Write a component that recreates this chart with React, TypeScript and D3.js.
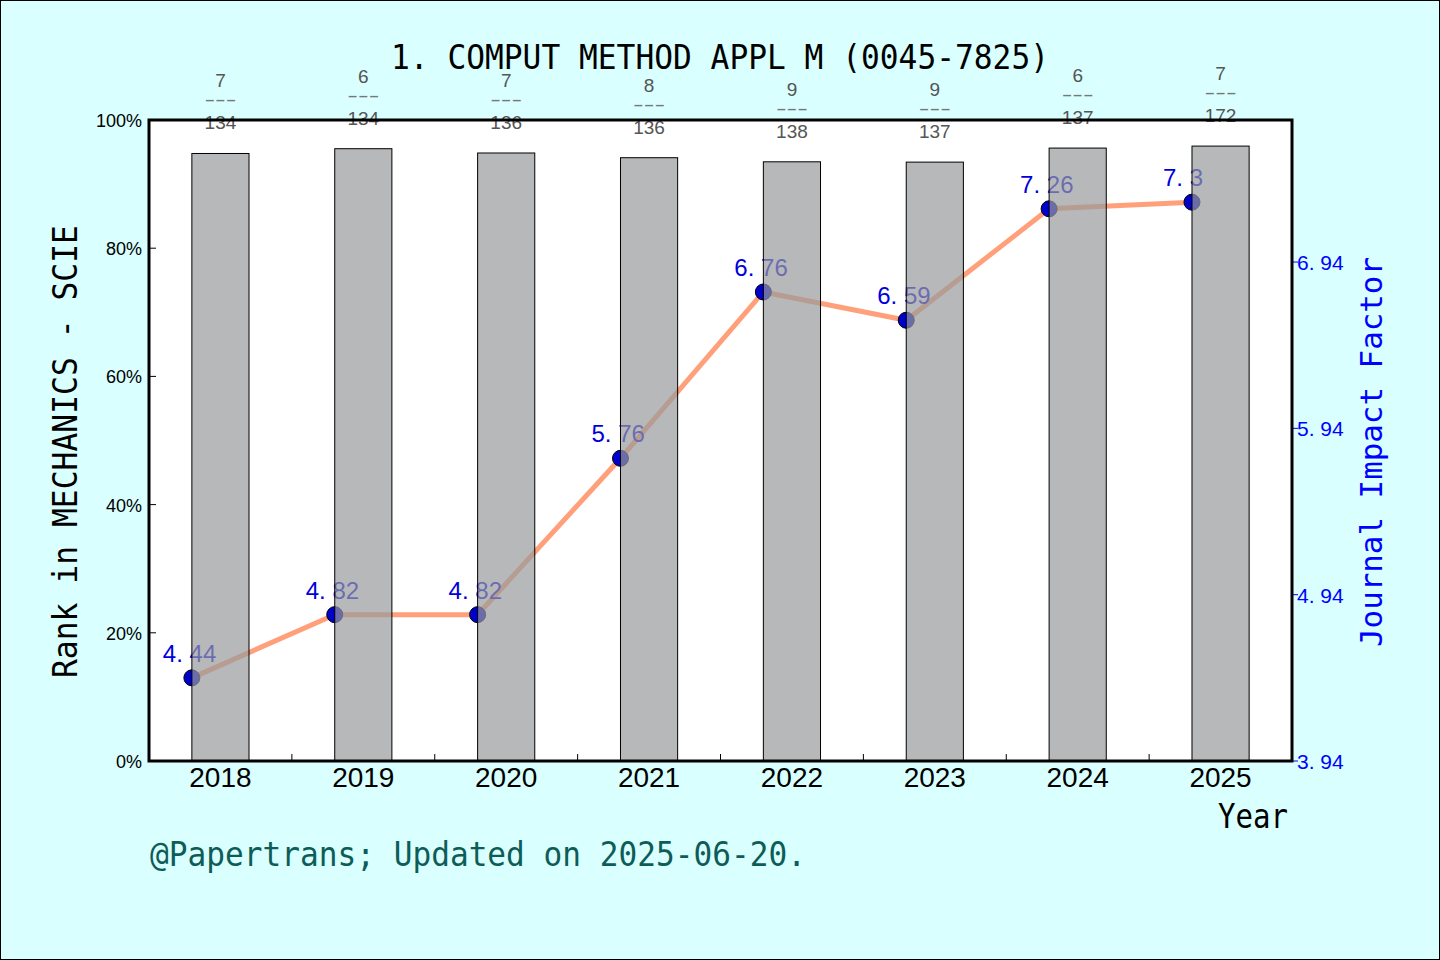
import React from 'react';
import * as d3 from 'd3';

const years = ['2018', '2019', '2020', '2021', '2022', '2023', '2024', '2025'];
const ranks = [7, 6, 7, 8, 9, 9, 6, 7];
const totals = [134, 134, 136, 136, 138, 137, 137, 172];
const impactFactors = [4.44, 4.82, 4.82, 5.76, 6.76, 6.59, 7.26, 7.3];
const impactLabels = ['4. 44', '4. 82', '4. 82', '5. 76', '6. 76', '6. 59', '7. 26', '7. 3'];
const percentTicks = [0, 0.2, 0.4, 0.6, 0.8, 1];
const percentTickLabels = ['0%', '20%', '40%', '60%', '80%', '100%'];
const ifTicks = [3.94, 4.94, 5.94, 6.94];
const ifTickLabels = ['3. 94', '4. 94', '5. 94', '6. 94'];

const W = 1440;
const H = 960;
const M = { left: 149, right: 1292, top: 120, bottom: 761 };
const MONO = '"DejaVu Sans Mono", "Liberation Mono", monospace';
const SANS = '"Liberation Sans", Arial, sans-serif';

export default function App() {
  const x = d3.scaleBand<string>().domain(years).range([M.left, M.right]).padding(0);
  const bw = x.bandwidth();
  const barW = bw * 0.4;
  const yPct = d3.scaleLinear().domain([0, 1]).range([M.bottom, M.top]);
  const yIF = d3.scaleLinear().domain([3.94, 7.794]).range([M.bottom, M.top]);

  const pctValues = ranks.map((r, i) => 1 - r / totals[i]);
  const px = (i: number) => (x(years[i]) as number) + bw * 0.3;
  const line = d3
    .line<number>()
    .x((_, i) => px(i))
    .y((d) => yIF(d));

  return (
    <svg
      width={W}
      height={H}
      style={{ position: 'absolute', left: 0, top: 0, display: 'block' }}
      xmlns="http://www.w3.org/2000/svg"
    >
      <rect x={0.5} y={0.5} width={W - 1} height={H - 1} fill="#d9ffff" stroke="#000" strokeWidth={1} />
      <rect x={M.left} y={M.top} width={M.right - M.left} height={M.bottom - M.top} fill="#ffffff" />

      {/* title */}
      <text
        x={720}
        y={69}
        textAnchor="middle"
        fontFamily={MONO}
        fontSize={33}
        textLength={658}
        lengthAdjust="spacingAndGlyphs"
        fill="#000"
      >
        1. COMPUT METHOD APPL M (0045-7825)
      </text>

      {/* line, points, labels (under bars) */}
      <path d={line(impactFactors) || ''} fill="none" stroke="#ffa07a" strokeWidth={5} />
      {impactFactors.map((v, i) => (
        <circle key={'c' + i} cx={px(i)} cy={yIF(v)} r={8} fill="#0000cc" stroke="#000" strokeWidth={1} />
      ))}
      {impactFactors.map((v, i) => (
        <text
          key={'l' + i}
          x={px(i) - 29}
          y={yIF(v) - 16}
          fontFamily={SANS}
          fontSize={24}
          fill="#0000dd"
          style={{ whiteSpace: 'pre' }}
        >
          {impactLabels[i]}
        </text>
      ))}

      {/* bars */}
      {pctValues.map((v, i) => (
        <rect
          key={'b' + i}
          x={px(i)}
          y={yPct(v)}
          width={barW}
          height={M.bottom - yPct(v)}
          fill="#999a9c"
          fillOpacity={0.7}
          stroke="#000"
          strokeWidth={1}
        />
      ))}

      {/* rank labels */}
      {pctValues.map((v, i) => {
        const cx = (x(years[i]) as number) + bw / 2;
        const top = yPct(v);
        return (
          <g key={'r' + i} fontFamily={SANS} fontSize={19} fill="#555" textAnchor="middle">
            <text x={cx} y={top - 66}>{ranks[i]}</text>
            <text
              x={cx}
              y={top - 47}
              fill="#777"
              textLength={32}
              lengthAdjust="spacingAndGlyphs"
            >
              ---
            </text>
            <text x={cx} y={top - 24}>{totals[i]}</text>
          </g>
        );
      })}

      {/* left axis ticks */}
      {percentTicks.map((t, i) => (
        <g key={'lt' + i}>
          <line x1={M.left} x2={M.left + 7} y1={yPct(t)} y2={yPct(t)} stroke="#000" strokeWidth={1} />
          <text x={142} y={yPct(t) + 7} textAnchor="end" fontFamily={SANS} fontSize={18} fill="#000">
            {percentTickLabels[i]}
          </text>
        </g>
      ))}

      {/* right axis ticks */}
      {ifTicks.map((t, i) => (
        <g key={'rt' + i}>
          <line x1={M.right} x2={M.right + 6} y1={yIF(t)} y2={yIF(t)} stroke="#0000ff" strokeWidth={1} />
          <text
            x={1297}
            y={yIF(t) + 8}
            fontFamily={SANS}
            fontSize={21}
            fill="#0000ff"
            style={{ whiteSpace: 'pre' }}
          >
            {ifTickLabels[i]}
          </text>
        </g>
      ))}

      {/* x axis minor ticks and labels */}
      {years.slice(1).map((yr) => (
        <line
          key={'xt' + yr}
          x1={x(yr) as number}
          x2={x(yr) as number}
          y1={M.bottom}
          y2={M.bottom - 7}
          stroke="#000"
          strokeWidth={1}
        />
      ))}
      {years.map((yr) => (
        <text
          key={'xl' + yr}
          x={(x(yr) as number) + bw / 2}
          y={787}
          textAnchor="middle"
          fontFamily={SANS}
          fontSize={28}
          fill="#000"
        >
          {yr}
        </text>
      ))}

      {/* frame */}
      <rect
        x={M.left}
        y={M.top}
        width={M.right - M.left}
        height={M.bottom - M.top}
        fill="none"
        stroke="#000"
        strokeWidth={3}
      />

      {/* axis titles */}
      <text
        transform={`translate(77,${(225 + 678) / 2}) rotate(-90)`}
        textAnchor="middle"
        fontFamily={MONO}
        fontSize={33}
        textLength={453}
        lengthAdjust="spacingAndGlyphs"
        fill="#000"
      >
        Rank in MECHANICS - SCIE
      </text>
      <text
        transform={`translate(1382,${(257 + 647) / 2}) rotate(-90)`}
        textAnchor="middle"
        fontFamily={MONO}
        fontSize={31}
        textLength={390}
        lengthAdjust="spacingAndGlyphs"
        fill="#0000ff"
      >
        Journal Impact Factor
      </text>
      <text
        x={1288}
        y={828}
        textAnchor="end"
        fontFamily={MONO}
        fontSize={34}
        textLength={70}
        lengthAdjust="spacingAndGlyphs"
        fill="#000"
      >
        Year
      </text>

      {/* footer */}
      <text
        x={150}
        y={866}
        fontFamily={MONO}
        fontSize={33}
        textLength={656}
        lengthAdjust="spacingAndGlyphs"
        fill="#0d5c57"
      >
        @Papertrans; Updated on 2025-06-20.
      </text>
    </svg>
  );
}
